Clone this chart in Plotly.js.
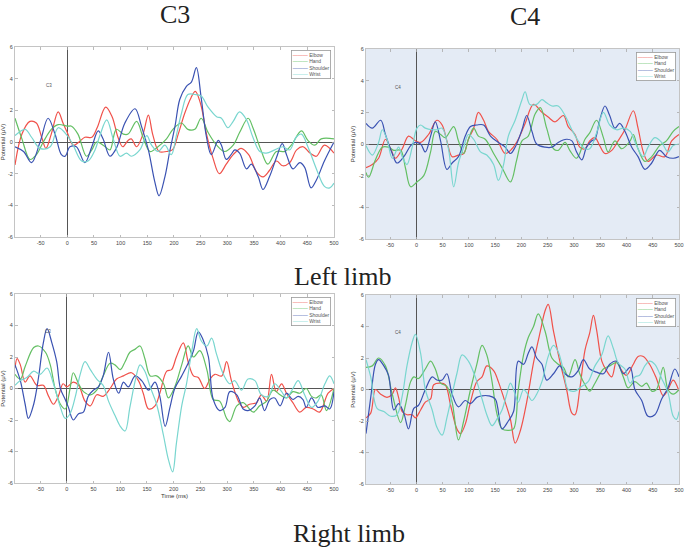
<!DOCTYPE html>
<html>
<head>
<meta charset="utf-8">
<script src="https://cdn.plot.ly/plotly-3.0.1.min.js"></script>
<style>html,body{margin:0;padding:0;background:#fff;}#chart{width:685px;height:552px;}</style>
</head>
<body>
<div id="chart"></div>
<script>
// ---------- DATA (time in ms, potential in µV) ----------
var seriesNames = ["Elbow", "Hand", "Shoulder", "Wrist"];
var xTicks = [-50, 0, 50, 100, 150, 200, 250, 300, 350, 400, 450, 500];
var yTicks = [-6, -4, -2, 0, 2, 4, 6];

// Panel 1: C3, left limb
var c3LeftElbowT = [-98,-85,-70,-58,-48,-40,-30,-17,-8,0,11,22,33,46,56,72,84,95,104,114,120,130,142,152,160,172,186,197,208,220,232,240,250,261,273,285,298,311,326,340,355,367,379,392,404,417,430,442,455,467,482,500];
var c3LeftElbowV = [-1.45,0.5,1.3,1.2,0.3,-0.4,0.5,1.9,1.2,0.6,-0.2,0,0.3,0.3,0.9,2.2,1.6,0.3,-0.3,0.1,0.2,-0.3,0.5,1.7,0.5,-0.6,-0.6,-0.5,0.5,1.8,2.8,3.2,2.4,0.5,-1.0,-2.0,-1.4,-0.8,-0.4,-0.8,-1.9,-2.2,-1.8,-1.2,-1.5,-1.3,-0.5,-0.3,-0.7,-0.9,-0.2,-0.7];
var c3LeftHandT = [-98,-85,-70,-58,-45,-30,-17,0,8,20,36,46,55,71,80,92,105,114,130,142,155,170,186,198,214,226,239,251,264,280,295,311,323,339,348,364,376,392,408,420,439,451,464,476,500];
var c3LeftHandV = [1.5,0.2,-1.1,-0.8,0,0.8,1.1,1.0,1.0,0.5,-0.9,-0.5,0,-0.3,-0.5,0.8,0.5,0.5,1.3,0.3,-0.6,-0.3,0.2,0.8,1.2,0.8,0.8,1.5,0.6,-0.2,-0.6,-0.2,0.6,1.5,0.9,-0.6,-1.4,-0.6,-0.6,-0.2,0.7,0.1,-0.2,0.2,0.2];
var c3LeftShoulderT = [-98,-82,-67,-51,-36,-23,-11,-4,5,17,33,46,58,67,80,92,108,127,139,152,164,172,183,192,202,211,223,233,242,251,261,270,283,289,298,307,314,323,336,345,358,367,379,392,403,411,423,436,445,457,467,482,500];
var c3LeftShoulderV = [-0.3,-0.6,-1.3,0,1.5,0.5,-0.8,-0.9,-0.3,-0.3,-1.3,-0.3,0.7,0.2,-0.9,-0.4,1.2,2.1,1.0,-0.5,-2.5,-3.4,-2.2,-0.6,1.0,2.7,3.5,3.8,4.7,2.8,0.3,-0.8,0.1,-0.2,-1.1,-0.8,-0.5,-0.7,-1.7,-1.4,-2.2,-3.0,-2.2,-1.0,-0.1,-0.8,-1.7,-1.3,-1.6,-2.9,-2.4,-1.2,0];
var c3LeftWristT = [-98,-79,-67,-51,-32,-17,0,11,27,39,52,61,74,86,99,111,120,136,149,158,170,183,195,205,214,226,239,251,264,280,289,301,311,323,336,348,361,373,389,404,417,429,439,451,467,482,492,500];
var c3LeftWristV = [0.4,0.8,0.3,-0.4,-0.3,0.9,0.4,-0.2,-1.2,-1.2,-0.5,0.4,1.4,0.2,-0.9,-0.7,-0.9,-0.5,0.4,-0.2,-0.6,-0.2,-0.8,0.5,1.8,3.0,3.0,2.9,2.2,1.6,1.5,0.9,1.3,1.9,1.4,0.3,-0.6,-0.7,-0.5,-0.3,-0.5,0.3,0.5,-0.3,-1.7,-2.8,-2.9,-2.6];

// Panel 2: C4, left limb
var c4LeftElbowT = [-96,-84,-72,-59,-49,-40,-27,-15,-2,8,23,39,49,58,68,80,90,99,109,118,128,137,153,169,182,194,207,223,239,251,264,280,289,302,311,321,330,340,349,359,372,384,397,413,422,432,441,457,473,486,500];
var c4LeftElbowV = [-1.5,-1.3,-0.9,0.3,-0.3,-0.9,-0.3,0.5,0.2,0.1,0.6,1.5,1.2,0.2,-0.8,-0.7,-0.6,0.3,1.0,2.0,1.5,0.8,0.3,-0.6,-0.3,0.3,1.3,2.5,2.0,1.7,1.4,1.8,1.1,0.6,-0.2,-0.3,0.2,0.4,-0.1,-0.6,-0.4,0.2,0.9,2.1,1.0,-0.5,-1.1,-0.7,-0.8,0.2,0.6];
var c4LeftHandT = [-96,-91,-78,-65,-53,-43,-30,-21,-11,1,14,27,36,46,55,71,80,90,99,109,118,131,147,163,179,191,201,213,226,236,248,261,270,283,292,305,321,330,343,356,365,378,391,407,413,422,435,448,463,476,489,500];
var c4LeftHandV = [-1.8,-2.1,-1.0,-0.2,-0.2,-0.4,-0.4,-1.5,-2.7,-2.4,-2.0,-0.5,0.8,0.6,0.4,1.1,0.2,-0.6,0.3,1.0,0.5,0.3,-0.6,-1.5,-2.4,-1.0,0.2,0.5,1.9,2.3,1.0,-0.3,-0.4,0.1,-0.4,-0.9,0.3,0.7,1.5,0.4,-0.5,0.2,-0.3,0.2,0.6,-0.3,-1.1,-0.8,-0.1,0.2,0.8,1.1];
var c4LeftShoulderT = [-96,-84,-68,-59,-46,-37,-24,-11,-2,8,17,27,36,46,58,68,80,93,103,115,128,141,156,169,179,188,201,210,220,229,245,258,270,286,296,305,315,324,334,340,349,359,368,378,387,397,410,422,435,448,463,476,489,500];
var c4LeftShoulderV = [1.3,1.0,1.5,0.6,-0.6,-1.2,-0.8,-0.1,0.1,0,-0.5,0.5,1.4,0.2,-1.6,-1.2,-0.8,0.5,1.1,1.2,1.2,0.5,0.1,-0.2,-0.6,-0.2,0.9,1.8,0.8,0,-0.2,-0.2,0.1,0.3,0.2,-0.5,-1.0,-0.2,0.2,0.3,1.5,2.4,1.8,1.0,1.3,0.8,-0.2,-0.8,-1.6,-1.2,-0.4,-0.8,-0.9,-0.8];
var c4LeftWristT = [-96,-84,-72,-65,-56,-46,-34,-27,-18,-8,1,8,17,30,39,49,61,71,80,90,99,109,122,134,147,156,166,175,188,201,207,216,229,239,248,258,270,283,296,308,321,330,343,356,368,381,394,407,419,432,441,454,467,479,489,500];
var c4LeftWristV = [-0.1,-0.7,0.1,0.9,0.3,-0.9,-0.2,-0.8,-1.3,-0.2,1.0,1.2,1.0,0.9,0.9,1.0,-0.3,-2.7,-1.2,-0.2,0.6,0.3,-0.5,-0.7,-1.3,-2.3,-1.3,0.5,1.5,2.8,3.3,2.5,2.5,2.8,2.6,2.4,2.4,1.8,0.9,0.2,-0.3,-0.3,0.7,2.0,1.2,0.9,1.0,0.8,-0.1,-0.8,-0.2,0.4,0.1,-0.5,-0.1,0];

// Panel 3: C3, right limb
var c3RightElbowT = [-97,-93,-87,-78,-69,-56,-44,-34,-25,-16,-7,0,12,22,34,44,56,68,81,93,106,121,134,143,153,165,174,187,196,205,218,227,237,246,258,268,277,290,299,308,321,330,342,355,364,374,383,392,402,411,423,436,448,461,473,489,500];
var c3RightElbowV = [1.3,1.9,1.5,0.4,0.8,0.2,0.2,-0.5,-1.0,-0.5,0.3,0.1,0.4,0.2,-0.8,-1.1,-0.4,-0.5,0,0.6,0.8,1.0,0.5,-0.3,-1.3,-1.1,-0.3,1.1,1.2,2.0,2.9,1.7,0.8,0.7,0,0.6,0.9,0.8,1.7,0.5,-0.8,-1.2,-1.0,-0.9,-0.4,-0.8,0.9,-0.2,0.3,-0.3,-0.9,-1.5,-1.2,-1.3,-1.5,-0.3,0];
var c3RightHandT = [-97,-87,-78,-62,-53,-40,-31,-22,-12,-3,6,12,22,31,44,56,68,81,90,100,109,118,128,137,146,156,168,181,190,202,215,227,237,249,262,274,286,299,305,318,330,349,361,374,386,399,411,423,436,448,458,467,476,486,500];
var c3RightHandV = [0.9,0.6,1.4,2.6,2.7,2.3,1.5,0,-1.0,-1.3,0,1.0,0.3,-0.2,-0.4,-0.1,0.8,1.6,1.5,1.2,1.7,2.3,2.5,2.7,1.9,0.8,0.8,0.3,-0.6,0.1,1.5,2.7,2.0,2.4,1.2,-0.7,-0.8,-1.9,-2.1,-1.1,-0.9,-1.5,-1.1,-0.8,-0.1,-0.4,-0.6,-0.2,-0.3,0,-0.5,-0.6,-0.4,-1.4,0];
var c3RightShoulderT = [-97,-87,-78,-72,-62,-53,-44,-37,-28,-19,-12,-3,3,12,22,31,40,50,59,68,78,87,97,106,115,128,140,153,165,174,184,193,202,215,227,237,246,255,265,274,286,296,305,318,330,339,352,361,370,380,389,399,411,423,433,442,448,458,470,483,492,500];
var c3RightShoulderV = [1.5,0.5,-1.0,-1.9,-1.0,0.7,2.9,3.8,2.9,1.7,0,-0.7,-1.2,-2.0,-1.6,-1.5,-0.5,-0.1,0.1,0.8,2.3,0.6,-0.3,0.4,0.1,0.8,0.5,-0.1,0.4,-0.5,-2.4,-1.2,0,0.8,1.6,2.4,3.6,3.1,2.0,-0.7,-1.4,-1.2,-0.2,-0.4,-1.3,-1.4,-1.1,-0.6,-1.4,-0.7,-0.6,-1.1,-0.3,-0.7,-0.5,-0.7,-1.2,-0.6,-1.2,-1.1,-1.3,-0.2];
var c3RightWristT = [-97,-87,-75,-62,-50,-37,-25,-12,-3,6,16,25,34,44,56,68,78,90,100,109,118,128,137,146,156,168,181,190,198,205,215,224,234,243,252,262,271,280,293,305,314,327,339,352,364,377,389,402,411,423,433,445,458,470,483,492,500];
var c3RightWristV = [0.2,0.5,0.7,1.1,0.9,1.3,0.3,-1.2,-1.9,-1.6,-0.5,0.9,1.7,1.2,0.6,0.2,-0.8,-1.7,-2.4,-2.7,-1.2,0.5,1.5,1.1,0.1,-1.0,-3.0,-4.5,-5.3,-3.5,-1.1,0.3,2.4,3.8,3.0,2.7,3.2,2.2,0.9,0.3,0.5,-0.1,0.6,0.5,-0.4,-0.5,0.3,-0.2,-0.6,0,0.5,-0.4,-1.2,-0.8,0.3,0.8,0.3];

// Panel 4: C4, right limb
var c4RightElbowT = [-96,-87,-78,-68,-56,-46,-40,-34,-27,-18,-8,-2,8,17,27,33,46,55,65,77,84,93,103,115,125,134,147,156,166,179,188,198,210,223,236,245,251,261,273,286,296,302,311,321,330,337,343,353,362,372,381,391,400,413,422,432,444,457,470,479,489,500];
var c4RightElbowV = [-1.8,-1.5,0,-0.3,-0.5,-0.3,0.1,-0.5,-1.4,-1.6,-1.6,-1.8,-1.3,-0.8,-0.6,0.3,0.4,0.3,-1.0,-2.5,-2.8,-2.2,-0.8,0.5,0.8,1.5,1.2,0.5,-0.5,-1.9,-3.4,-2.6,-0.8,1.7,3.7,5.0,5.4,3.7,1.8,0,-1.5,-1.6,0,2.5,3.6,4.7,3.8,1.8,1.2,0.8,1.8,1.2,0.9,1.6,2.1,2.1,1.6,0.7,-0.4,0,0.6,-0.1];
var c4RightHandT = [-96,-84,-72,-59,-46,-30,-21,-11,-5,4,17,27,36,46,58,68,80,90,103,115,125,134,144,153,163,175,185,194,204,213,223,232,245,258,270,280,289,302,311,321,330,340,356,368,381,394,403,416,429,438,448,457,470,479,489,500];
var c4RightHandV = [1.4,1.5,2.0,1.5,-0.3,-2.1,-1.0,0.5,0.8,0.7,1.3,1.8,1.3,0.4,0.2,-0.8,-3.2,-2.0,0,1.6,2.8,2.2,0.5,-1.5,-2.5,-2.6,-2.5,0,2.2,3.3,4.0,4.8,3.7,2.0,1.6,1.4,0.8,1.9,1.0,0.3,-0.1,0.4,1.3,1.5,1.7,0.8,0.1,0.5,0.2,0.4,-0.1,0,1.4,0,-0.3,0];
var c4RightShoulderT = [-96,-87,-78,-72,-62,-53,-43,-34,-24,-15,-5,4,17,30,39,49,58,68,80,93,103,115,125,137,150,163,175,185,194,204,213,220,229,239,248,261,273,283,296,308,318,330,343,356,368,381,394,407,416,429,441,454,467,479,492,500];
var c4RightShoulderV = [-2.8,-0.5,1.6,1.9,1.5,0.9,-1.3,-0.9,-1.5,-2.5,-1.2,-1.0,0,0.8,0.6,0.6,1.0,-0.3,-1.1,-0.7,-0.9,-0.5,-0.4,-0.4,-0.6,-2.5,-2.0,-1.4,1.8,1.6,2.3,2.7,2.0,1.6,0.6,1.0,1.5,1.0,0.8,1.2,1.9,1.3,1.1,1.0,1.6,1.8,1.0,1.4,0,-0.7,-1.7,-1.6,-0.6,0.1,1.3,0.8];
var c4RightWristT = [-96,-87,-75,-62,-49,-37,-27,-18,-8,-2,8,17,30,39,49,58,68,77,87,99,112,125,134,144,153,163,172,179,188,194,204,210,220,229,239,251,261,270,280,289,302,315,327,340,353,365,375,384,397,407,416,425,435,444,454,467,479,489,495,500];
var c4RightWristV = [1.9,0.8,-1.2,-1.4,-1.7,-1.6,-0.4,1.5,3.0,3.5,2.3,0,-1.3,-2.4,-2.9,-1.8,-0.3,1.0,2.2,1.8,0.8,-0.6,-1.6,-2.3,-1.9,-1.3,-0.3,0.4,-0.3,-0.8,0,-0.2,-0.7,-0.3,0.5,2.1,2.8,2.4,1.2,0,-0.1,0.2,0.5,1.5,2.2,3.4,2.6,1.7,1.3,0.4,0.8,0.9,1.5,1.8,1.6,0.7,-0.2,-1.7,-1.9,-1.4];

// ---------- STYLE ----------
var colors = ["#f0514a", "#63bf63", "#3a52b2", "#79d6cf"];
var panels = [
  {label: "C3", ax: "", t: [c3LeftElbowT, c3LeftHandT, c3LeftShoulderT, c3LeftWristT], v: [c3LeftElbowV, c3LeftHandV, c3LeftShoulderV, c3LeftWristV]},
  {label: "C4", ax: "2", t: [c4LeftElbowT, c4LeftHandT, c4LeftShoulderT, c4LeftWristT], v: [c4LeftElbowV, c4LeftHandV, c4LeftShoulderV, c4LeftWristV]},
  {label: "C3", ax: "3", t: [c3RightElbowT, c3RightHandT, c3RightShoulderT, c3RightWristT], v: [c3RightElbowV, c3RightHandV, c3RightShoulderV, c3RightWristV]},
  {label: "C4", ax: "4", t: [c4RightElbowT, c4RightHandT, c4RightShoulderT, c4RightWristT], v: [c4RightElbowV, c4RightHandV, c4RightShoulderV, c4RightWristV]}
];
var W = 685, H = 552;
var boxes = [ // plot areas in pixels [x0, x1, y0(top), y1(bottom)]
  [15, 334, 47, 237],
  [366, 679, 49, 239],
  [15, 334, 294, 483],
  [366, 679, 295, 484]
];
var bgs = ["#ffffff", "#e4ebf5", "#ffffff", "#e4ebf5"];
var xRanges = [[-98, 500], [-96, 500], [-97, 500], [-96, 500]];

var traces = [];
var layout = {
  width: W, height: H,
  margin: {l: 0, r: 0, t: 0, b: 0},
  paper_bgcolor: "#ffffff",
  plot_bgcolor: "rgba(0,0,0,0)",
  showlegend: false,
  font: {family: "Liberation Sans, Arial, sans-serif", size: 6, color: "#444"},
  shapes: [],
  annotations: []
};

panels.forEach(function (p, i) {
  var xa = "x" + p.ax, ya = "y" + p.ax;
  for (var s = 0; s < 4; s++) {
    traces.push({
      type: "scatter", mode: "lines", name: seriesNames[s],
      x: p.t[s], y: p.v[s], xaxis: xa, yaxis: ya,
      line: {color: colors[s], width: 1.2, shape: "spline", smoothing: 1},
      hoverinfo: "skip"
    });
  }
  var b = boxes[i];
  var axCommon = {
    showgrid: false, zeroline: true, zerolinecolor: "#555", zerolinewidth: 1,
    showline: true, linecolor: "#c4c4c4", linewidth: 1, mirror: "ticks",
    ticks: "inside", ticklen: 2.5, tickcolor: "#aaa", tickwidth: 0.8,
    tickfont: {size: 5.5, color: "#444"}, fixedrange: true
  };
  layout["xaxis" + p.ax] = Object.assign({}, axCommon, {
    domain: [b[0] / W, b[1] / W], range: xRanges[i], anchor: ya,
    tickvals: xTicks, ticktext: xTicks.map(String), ticklabelstandoff: 0,
    title: i === 2 ? {text: "Time (ms)", font: {size: 6, color: "#333"}, standoff: 3} : {text: ""}
  });
  layout["yaxis" + p.ax] = Object.assign({}, axCommon, {
    domain: [1 - b[3] / H, 1 - b[2] / H], range: [-6, 6], anchor: xa,
    tickvals: yTicks, ticktext: yTicks.map(String),
    title: {text: "Potential (μV)", font: {size: 6, color: "#333"}, standoff: 2}
  });
  layout.shapes.push({
    type: "rect", xref: xa + " domain", yref: ya + " domain",
    x0: 0, x1: 1, y0: 0, y1: 1, layer: "below",
    fillcolor: bgs[i], line: {width: 0}
  });
  // small channel tag inside the plot
  layout.annotations.push({
    xref: xa, yref: ya, x: -35, y: 3.6, text: p.label, showarrow: false,
    font: {size: 4.5, color: "#555"}
  });
  // compact legend box
  var legText = seriesNames.map(function (n, k) {
    return "<span style='color:" + colors[k] + "'>———</span> " + n;
  }).join("<br>");
  layout.annotations.push({
    xref: xa + " domain", yref: ya + " domain", x: 0.99, y: 0.985,
    xanchor: "right", yanchor: "top", align: "left", showarrow: false,
    text: legText, font: {size: 5, color: "#555"},
    bgcolor: "#ffffff", bordercolor: "#999", borderwidth: 0.8, borderpad: 1
  });
});

// big figure labels
var serif = {family: "Liberation Serif, Times New Roman, serif", size: 26, color: "#222"};
[["C3", 175, 14], ["C4", 525, 16], ["Left limb", 342, 276], ["Right limb", 349, 533]].forEach(function (t) {
  layout.annotations.push({
    xref: "paper", yref: "paper", x: t[1] / W, y: 1 - t[2] / H,
    xanchor: "center", yanchor: "middle", text: t[0], showarrow: false, font: serif
  });
});

Plotly.newPlot("chart", traces, layout, {staticPlot: true, displayModeBar: false});
</script>
</body>
</html>
